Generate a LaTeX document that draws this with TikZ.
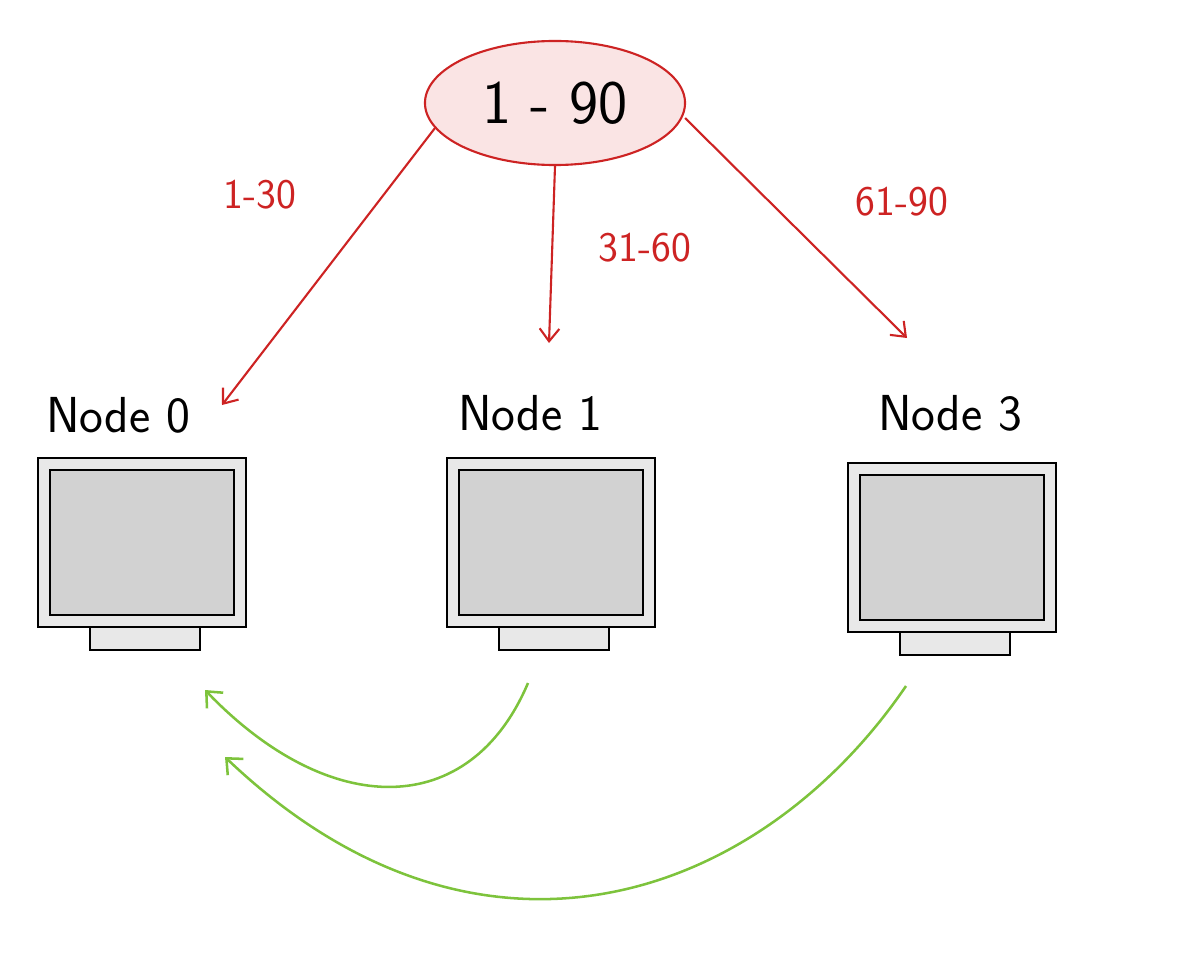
\documentclass[tikz,border=0pt]{standalone}
\usetikzlibrary{shapes.geometric,arrows.meta}
\definecolor{rd}{RGB}{205,35,35}
\definecolor{pk}{RGB}{250,228,228}
\definecolor{gr}{RGB}{125,195,60}
\definecolor{scr}{RGB}{210,210,210}
\definecolor{bez}{RGB}{232,232,232}
\begin{document}
\begin{tikzpicture}[x=0.025cm,y=-0.025cm,
  redarr/.style={rd,line width=1.5pt,-{Straight Barb[length=9pt,width=14pt]}},
  grarr/.style={gr,line width=1.8pt,-{Straight Barb[length=9pt,width=16pt]}},
  lbl/.style={rd,font=\sffamily\fontsize{30}{30}\selectfont},
  nlbl/.style={font=\sffamily\fontsize{36}{36}\selectfont},
  frame/.style={draw,line width=1.5pt,fill=bez},
  screen/.style={draw,line width=1.5pt,fill=scr}]
\useasboundingbox (0,0) rectangle (1200,972);
\node[ellipse,draw=rd,fill=pk,line width=1.5pt,minimum width=6.5cm,minimum height=3.1cm,font=\sffamily\fontsize{44}{44}\selectfont] (top) at (555,103) {1 - 90};
\foreach \n/\x/\y in {0/38/458,1/447/458,3/848/463}{
  \draw[frame] (\x+52,\y+169) rectangle (\x+162,\y+192);
  \draw[frame] (\x,\y) rectangle (\x+208,\y+169);
  \draw[screen] (\x+12,\y+12) rectangle (\x+196,\y+157);
}
\node[nlbl] (n0) at (118,415) {Node 0};
\node[nlbl] (n1) at (530,413) {Node 1};
\node[nlbl] (n3) at (950,413) {Node 3};
\coordinate (s0) at (435,128);
\coordinate (s3) at (685,118);
\coordinate (a0) at (222,405);
\coordinate (a1) at (549,343);
\coordinate (a3) at (907,338);
\draw[redarr] (s0) -- (a0);
\draw[redarr] (top.south) -- (a1);
\draw[redarr] (s3) -- (a3);
\node[lbl] at (260,195) {1-30};
\node[lbl] at (645,248) {31-60};
\node[lbl] at (902,202) {61-90};
\coordinate (g1) at (528,683);
\coordinate (g1e) at (205,690);
\coordinate (g3) at (906,686);
\coordinate (g3e) at (225,757);
\draw[grarr] (g1) .. controls (470,820) and (330,820) .. (g1e);
\draw[grarr] (g3) .. controls (760,900) and (480,1000) .. (g3e);
\end{tikzpicture}
\end{document}
